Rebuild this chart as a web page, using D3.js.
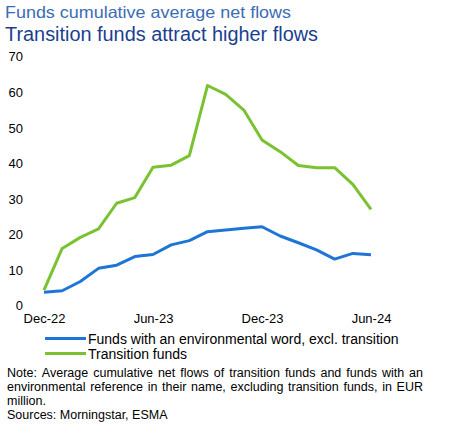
<!DOCTYPE html>
<html>
<head>
<meta charset="utf-8">
<script src="https://cdn.jsdelivr.net/npm/d3@7"></script>
<style>
  body { margin: 0; background: #fff; }
  svg { font-family: "Liberation Sans", Arial, sans-serif; }
</style>
</head>
<body>
<svg id="chart" width="464" height="426"></svg>
<script>
// monthly observations, Dec-22 .. Jun-24
var months = ['Dec-22', 'Jan-23', 'Feb-23', 'Mar-23', 'Apr-23', 'May-23', 'Jun-23', 'Jul-23', 'Aug-23', 'Sep-23',
  'Oct-23', 'Nov-23', 'Dec-23', 'Jan-24', 'Feb-24', 'Mar-24', 'Apr-24', 'May-24', 'Jun-24']
var envFunds = [3.8, 4.2, 6.8, 10.5, 11.4, 13.8, 14.4, 17.1, 18.3, 20.8, 21.3, 21.8, 22.2, 19.6, 17.7, 15.7, 13.1, 14.7, 14.3]
var transitionFunds = [4.4, 16.1, 19.2, 21.6, 28.8, 30.4, 38.9, 39.5, 42.2, 61.9, 59.4, 55.0, 46.6, 43.3, 39.4, 38.8, 38.8, 34.1, 27.1]
var xTickLabels = ['Dec-22', 'Jun-23', 'Dec-23', 'Jun-24']
var yTicks = [0, 10, 20, 30, 40, 50, 60, 70]
var seriesNames = ['Funds with an environmental word, excl. transition', 'Transition funds']
var noteText = 'Note: Average cumulative net flows of transition funds and funds with an environmental reference in their name, excluding transition funds, in EUR million.'
var sourceText = 'Sources: Morningstar, ESMA'

var svg = d3.select('#chart')

svg.append('text').attr('x', 5).attr('y', 18)
  .attr('fill', '#3a6db4').style('font-size', '16.5px')
  .attr('textLength', 286).attr('lengthAdjust', 'spacingAndGlyphs')
  .text('Funds cumulative average net flows')
svg.append('text').attr('x', 5).attr('y', 41)
  .attr('fill', '#1b3f8f').style('font-size', '19.5px')
  .attr('textLength', 313).attr('lengthAdjust', 'spacingAndGlyphs')
  .text('Transition funds attract higher flows')

var x = d3.scalePoint().domain(months).range([44, 371])
var y = d3.scaleLinear().domain([0, 70]).range([305.7, 56.7])

// y axis: labels only, no line
var yAxis = svg.append('g').attr('transform', 'translate(23,0)')
  .call(d3.axisLeft(y).tickValues(yTicks).tickSize(0).tickPadding(0))
yAxis.select('.domain').remove()
yAxis.selectAll('text').style('font-size', '13px').attr('fill', '#000')
  .style('font-family', '"Liberation Sans", Arial, sans-serif')

var xAxis = svg.append('g').attr('transform', 'translate(0,311)')
  .call(d3.axisBottom(x).tickValues(xTickLabels).tickSize(0).tickPadding(3))
xAxis.select('.domain').remove()
xAxis.selectAll('text').style('font-size', '13px').attr('fill', '#000')
  .style('font-family', '"Liberation Sans", Arial, sans-serif')

var line = d3.line().x(function (d, i) { return x(months[i]) }).y(function (d) { return y(d) })
var colors = ['#1f75d6', '#7ac231']

;[envFunds, transitionFunds].forEach(function (s, k) {
  svg.append('path').datum(s).attr('d', line)
    .attr('fill', 'none').attr('stroke', colors[k]).attr('stroke-width', 3)
    .attr('stroke-linejoin', 'round')
})

// legend
seriesNames.forEach(function (name, k) {
  var ly = 338.5 + k * 15
  svg.append('line').attr('x1', 45).attr('x2', 86).attr('y1', ly).attr('y2', ly)
    .attr('stroke', colors[k]).attr('stroke-width', 3)
  svg.append('text').attr('x', 88).attr('y', ly + 5).style('font-size', '14px')
    .attr('fill', '#000').text(name)
})

// justified note, first lines stretched to full width
function justify (text, x0, width, y0, lineH, size) {
  var words = text.split(' ')
  var g = svg.append('g').style('font-size', size + 'px').attr('fill', '#000')
  var probe = g.append('text')
  function w (s) { probe.text(s); return probe.node().getComputedTextLength() }
  var lines = []
  var cur = []
  words.forEach(function (word) {
    var test = cur.concat([word]).join(' ')
    if (cur.length && w(test) > width) { lines.push(cur); cur = [word] } else { cur.push(word) }
  })
  lines.push(cur)
  lines.forEach(function (ws, li) {
    var ly = y0 + li * lineH
    if (li === lines.length - 1 || ws.length < 2) {
      g.append('text').attr('x', x0).attr('y', ly).text(ws.join(' '))
      return
    }
    var widths = ws.map(w)
    var gap = (width - d3.sum(widths)) / (ws.length - 1)
    var cx = x0
    ws.forEach(function (word, wi) {
      g.append('text').attr('x', cx).attr('y', ly).text(word)
      cx += widths[wi] + gap
    })
  })
  probe.remove()
  return y0 + lines.length * lineH
}

var nextY = justify(noteText, 7, 416, 377, 14, 12.5)
svg.append('text').attr('x', 7).attr('y', nextY).style('font-size', '12.5px')
  .attr('fill', '#000').text(sourceText)
</script>
</body>
</html>
